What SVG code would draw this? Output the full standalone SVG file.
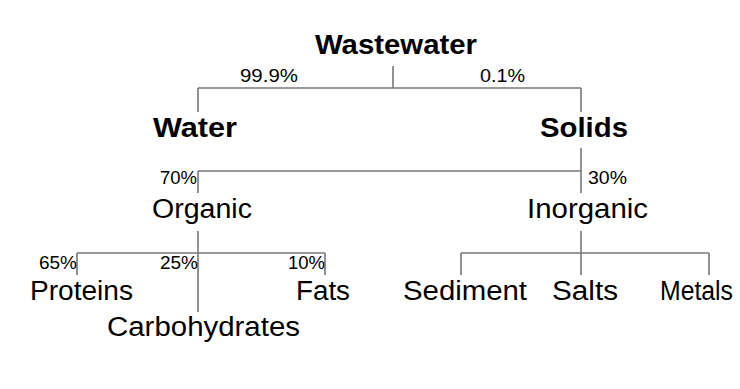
<svg xmlns="http://www.w3.org/2000/svg" width="740" height="389" viewBox="0 0 740 389">
<style>
text{font-family:"Liberation Sans",Arial,sans-serif;fill:#000}
.b{font-weight:bold;font-size:28px}
.n{font-size:27px}
.p{font-size:18px}
.c line{stroke:#777;stroke-width:1.6;fill:none}
</style>
<rect width="740" height="389" fill="#fff"/>
<g class="c" id="connectors">
<line x1="393" y1="66" x2="393" y2="88"/>
<line x1="198" y1="88" x2="581" y2="88"/>
<line x1="198" y1="88" x2="198" y2="112"/>
<line x1="581" y1="88" x2="581" y2="112"/>
<line x1="581" y1="148" x2="581" y2="193"/>
<line x1="198" y1="171" x2="581" y2="171"/>
<line x1="198" y1="171" x2="198" y2="193"/>
<line x1="198" y1="231" x2="198" y2="312"/>
<line x1="77" y1="253" x2="325" y2="253"/>
<line x1="77" y1="253" x2="77" y2="275"/>
<line x1="325" y1="253" x2="325" y2="275"/>
<line x1="581" y1="231" x2="581" y2="275"/>
<line x1="461" y1="253" x2="709" y2="253"/>
<line x1="461" y1="253" x2="461" y2="275"/>
<line x1="709" y1="253" x2="709" y2="275"/>
<text class="p" x="240" y="82" textLength="58" lengthAdjust="spacingAndGlyphs">99.9%</text>
<text class="p" x="480" y="82" textLength="45" lengthAdjust="spacingAndGlyphs">0.1%</text>
<text class="p" x="197" y="184" text-anchor="end" textLength="37" lengthAdjust="spacingAndGlyphs">70%</text>
<text class="p" x="588" y="184" textLength="39" lengthAdjust="spacingAndGlyphs">30%</text>
<text class="p" x="77" y="269" text-anchor="end" textLength="38" lengthAdjust="spacingAndGlyphs">65%</text>
<text class="p" x="198" y="269" text-anchor="end" textLength="38" lengthAdjust="spacingAndGlyphs">25%</text>
<text class="p" x="325" y="269" text-anchor="end" textLength="37" lengthAdjust="spacingAndGlyphs">10%</text>
</g>
<g id="wastewater"><text class="b" x="315" y="54" textLength="162" lengthAdjust="spacingAndGlyphs">Wastewater</text></g>
<g id="water"><text class="b" x="153" y="137" textLength="84" lengthAdjust="spacingAndGlyphs">Water</text></g>
<g id="solids"><text class="b" x="540" y="137" textLength="88" lengthAdjust="spacingAndGlyphs">Solids</text></g>
<g id="organic"><text class="n" x="152" y="218" textLength="100" lengthAdjust="spacingAndGlyphs">Organic</text></g>
<g id="inorganic"><text class="n" x="527" y="218" textLength="121" lengthAdjust="spacingAndGlyphs">Inorganic</text></g>
<g id="proteins"><text class="n" x="30" y="300" textLength="103" lengthAdjust="spacingAndGlyphs">Proteins</text></g>
<g id="fats"><text class="n" x="296" y="300" textLength="54" lengthAdjust="spacingAndGlyphs">Fats</text></g>
<g id="carbohydrates"><text class="n" x="107" y="336" textLength="193" lengthAdjust="spacingAndGlyphs">Carbohydrates</text></g>
<g id="sediment"><text class="n" x="403" y="300" textLength="124" lengthAdjust="spacingAndGlyphs">Sediment</text></g>
<g id="salts"><text class="n" x="552" y="300" textLength="66" lengthAdjust="spacingAndGlyphs">Salts</text></g>
<g id="metals"><text class="n" x="660" y="300" textLength="73" lengthAdjust="spacingAndGlyphs">Metals</text></g>
</svg>
